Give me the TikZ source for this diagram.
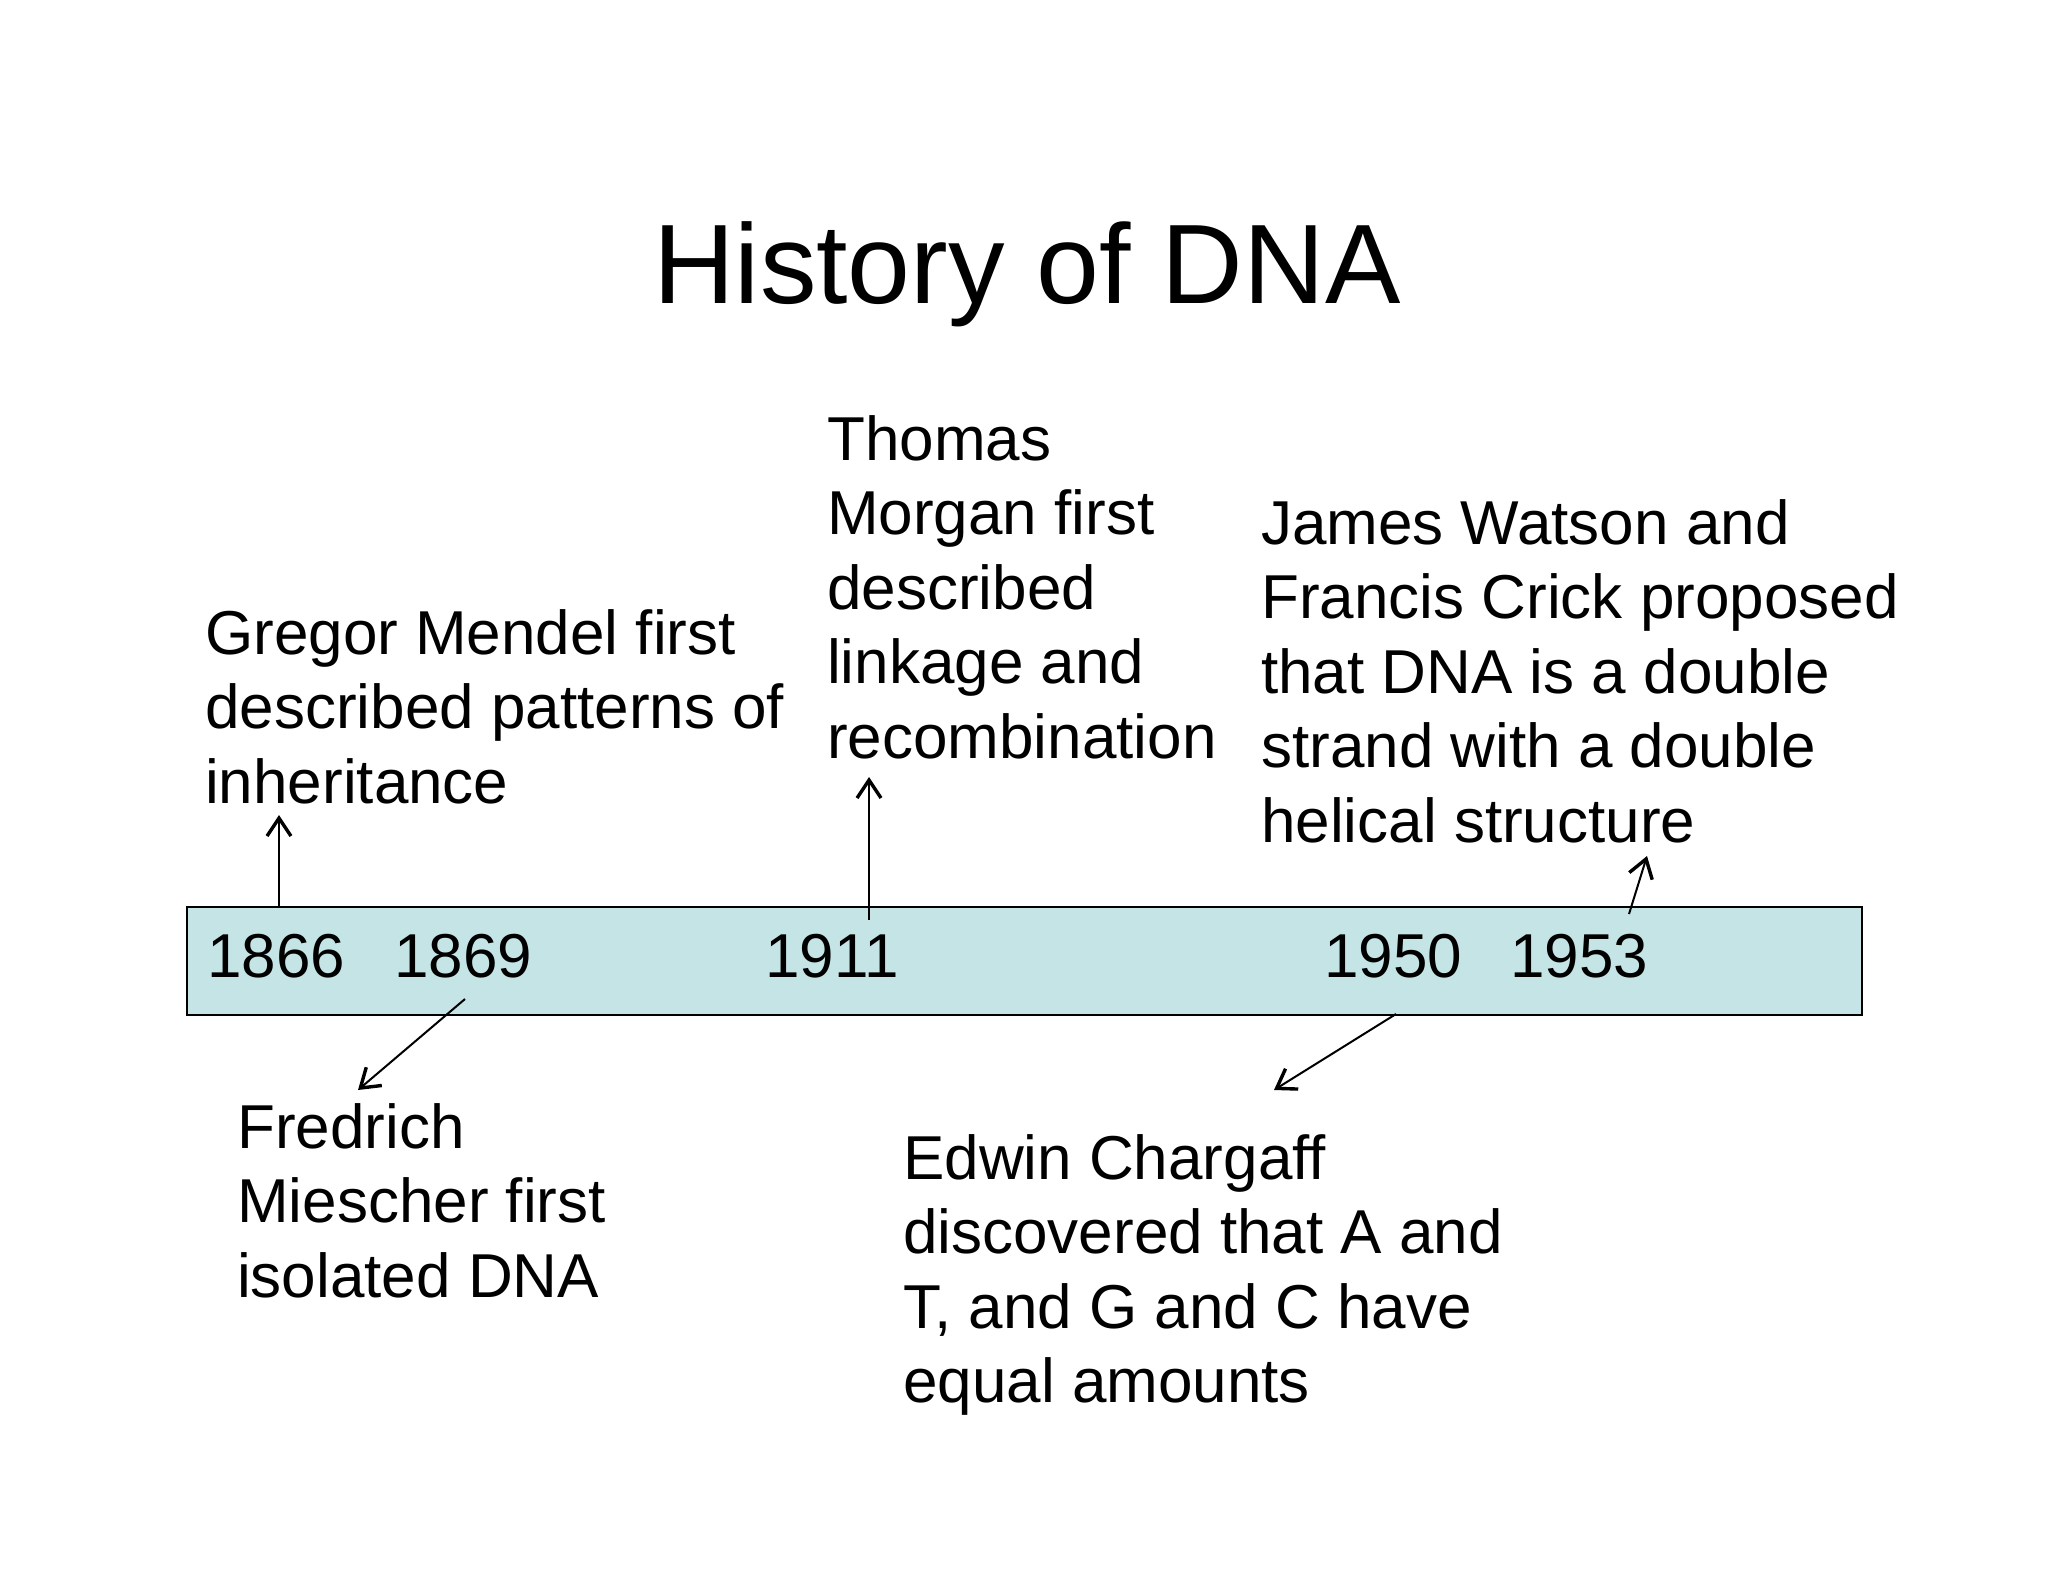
\documentclass[tikz,border=0pt]{standalone}
\usepackage{fontspec}
\setmainfont{Liberation Sans}
\usetikzlibrary{arrows.meta}
\definecolor{boxfill}{RGB}{196,228,230}
\begin{document}
\begin{tikzpicture}[x=1pt,y=-1pt,
  body/.style={inner sep=0pt, anchor=base west, font=\fontsize{62}{74.5}\selectfont},
  yearlbl/.style={inner sep=0pt, anchor=base west, font=\fontsize{62}{74.5}\selectfont},
  pointer/.style={line width=2pt, -{Straight Barb[length=18pt,width=24pt,line width=3.4pt]}}]
\fill[white] (0,0) rectangle (2048,1582);
\useasboundingbox (0,0) rectangle (2048,1582);
% title
\node[inner sep=0pt, anchor=base, font=\fontsize{113}{130}\selectfont] (title) at (1027,303) {History of DNA};
% timeline bar
\node[draw, line width=1.6pt, fill=boxfill, minimum width=1675pt, minimum height=108pt, inner sep=0pt, anchor=north west] (timeline) at (186,906) {};
% years
\node[yearlbl] (y1866) at (207,977) {1866};
\node[yearlbl] (y1869) at (394,977) {1869};
\node[yearlbl] (y1911) at (765,977) {1911};
\node[yearlbl] (y1950) at (1324,977) {1950};
\node[yearlbl] (y1953) at (1510,977) {1953};
% event texts
\node[body] (mendel) at (205,654) {\begin{tabular}[t]{@{}l@{}}Gregor Mendel first\\described patterns of\\inheritance\end{tabular}};
\node[body] (morgan) at (827,460) {\begin{tabular}[t]{@{}l@{}}Thomas\\Morgan first\\described\\linkage and\\recombination\end{tabular}};
\node[body] (watson) at (1261,544) {\begin{tabular}[t]{@{}l@{}}James Watson and\\Francis Crick proposed\\that DNA is a double\\strand with a double\\helical structure\end{tabular}};
\node[body] (miescher) at (237,1148) {\begin{tabular}[t]{@{}l@{}}Fredrich\\Miescher first\\isolated DNA\end{tabular}};
\node[body] (chargaff) at (903,1179) {\begin{tabular}[t]{@{}l@{}}Edwin Chargaff\\discovered that A and\\T, and G and C have\\equal amounts\end{tabular}};
% arrow end points
\coordinate (s1866) at (279,906);  \coordinate (e1866) at (279,815);
\coordinate (s1869) at (465,999);  \coordinate (e1869) at (358,1090);
\coordinate (s1911) at (869,920);  \coordinate (e1911) at (869,777);
\coordinate (s1950) at (1396,1014); \coordinate (e1950) at (1274,1090);
\coordinate (s1953) at (1629,914); \coordinate (e1953) at (1647,856);
\draw[pointer] (s1866) -- (e1866);
\draw[pointer] (s1869) -- (e1869);
\draw[pointer] (s1911) -- (e1911);
\draw[pointer] (s1950) -- (e1950);
\draw[pointer] (s1953) -- (e1953);
\end{tikzpicture}
\end{document}
